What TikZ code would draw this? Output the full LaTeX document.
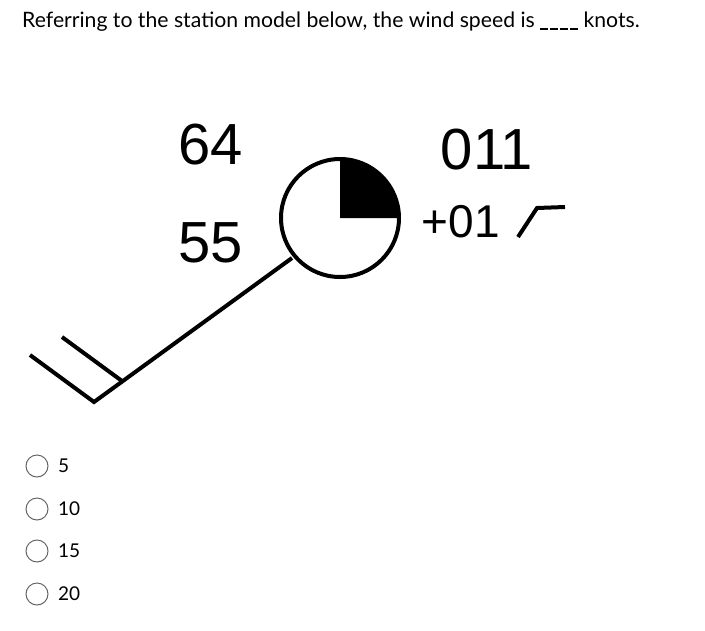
\documentclass[tikz,border=0pt]{standalone}
\usepackage{fontspec}
\setmainfont{Lato}
\newfontfamily\arial{Liberation Sans}
\newcommand{\dsh}{\rule[-2pt]{8pt}{1.5pt}}
\begin{document}
\begin{tikzpicture}[x=1pt,y=-1pt,
  big/.style={font=\arial\fontsize{58}{60}\selectfont,inner sep=0},
  mid/.style={font=\arial\fontsize{46}{50}\selectfont,inner sep=0},
  sym/.style={line width=4pt},
  radio/.style={circle,draw=gray!80!black,line width=1pt,minimum size=22pt,inner sep=0},
  opt/.style={anchor=west,font=\fontsize{19}{22}\selectfont,inner sep=0}]
\useasboundingbox (0,0) rectangle (705,630);
\node[anchor=west,font=\fontsize{21.2}{24}\selectfont,inner sep=0] (q) at (22,22) {Referring to the station model below, the wind speed is \dsh\hspace{2pt}\dsh\hspace{2pt}\dsh\hspace{2pt}\dsh\ knots.};
\coordinate (c) at (340,218);
\fill (c) -- (340,159) arc[start angle=-90,end angle=0,radius=59] -- cycle;
\draw[sym] (c) circle[radius=59];
\node[big] (t) at (211,145) {64};
\node[big] (d) at (211,243) {55};
\node[big] (p) at (487,150) {011};
\node[mid] (pt) at (461,222) {+01};
\coordinate (w0) at (292,258);
\coordinate (w1) at (94,402);
\coordinate (b1) at (30,355);
\coordinate (w2) at (122,381);
\coordinate (b2) at (62,337);
\draw[sym,line join=miter] (w0) -- (w1) -- (b1);
\draw[sym] (w2) -- (b2);
\coordinate (k0) at (518,237);
\coordinate (k1) at (537,208);
\coordinate (k2) at (565,207);
\draw[sym] (k0) -- (k1) -- (k2);
\foreach \y/\t [count=\i] in {466/5,509/10,551/15,594/20}{
  \node[radio] (r\i) at (37,\y) {};
  \node[opt] (o\i) at (58,\y) {\t};
}
\end{tikzpicture}
\end{document}
